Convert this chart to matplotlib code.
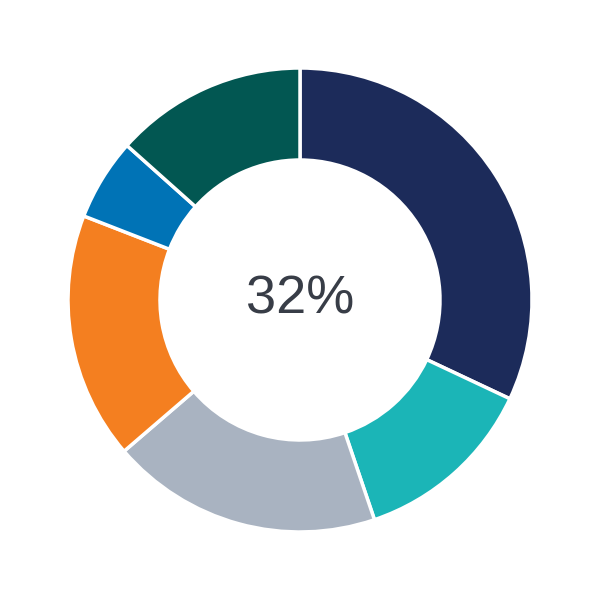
import matplotlib
matplotlib.use('Agg')
import matplotlib.pyplot as plt

# segments clockwise from 12 o'clock
labels = ['Navy', 'Teal', 'Gray', 'Orange', 'Blue', 'Green']
shares = [32, 12.8, 18.9, 17.2, 5.7, 13.4]
colors = ['#1c2b5a', '#1bb5b7', '#a9b3c1', '#f47f20', '#0073b6', '#025752']
center_text = '32%'

fig = plt.figure(figsize=(6, 6), dpi=100)
ax = fig.add_axes([0, 0, 1, 1])

ax.pie(shares, colors=colors, startangle=90, counterclock=False,
       radius=232, center=(0, 0), frame=True,
       wedgeprops=dict(width=92, edgecolor='white', linewidth=2.5))

ax.text(0, 0, center_text, ha='center', va='center', fontsize=39,
        color='#383d47', family=['Liberation Sans', 'DejaVu Sans'])

ax.set_xlim(-300, 300)
ax.set_ylim(-300, 300)
ax.set_aspect('equal')
ax.axis('off')

fig.savefig('out.png', dpi=100, facecolor='white')
